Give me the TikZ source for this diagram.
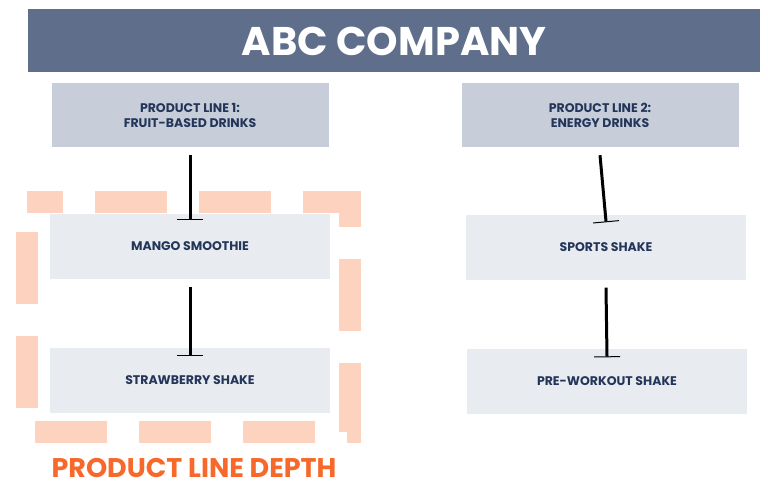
\documentclass[tikz,border=0pt]{standalone}
\usepackage{fontspec}
\setmainfont{Poppins}
\usetikzlibrary{positioning,arrows.meta}
\definecolor{titlebg}{HTML}{5E6E8B}
\definecolor{linebg}{HTML}{C8CED9}
\definecolor{itembg}{HTML}{E8EBF0}
\definecolor{navy}{HTML}{233659}
\definecolor{peach}{HTML}{FDD3C0}
\definecolor{flame}{HTML}{F7692A}
\begin{document}
\begin{tikzpicture}[x=1pt,y=-1pt,
        titlebox/.style={fill=titlebg, text=white, minimum width=732pt, minimum height=63pt, font=\fontsize{40}{40}\selectfont\bfseries},
        linebox/.style={fill=linebg, text=navy, minimum width=277pt, minimum height=64pt, align=center, font=\fontsize{12.5}{15}\selectfont\bfseries},
        itembox/.style={fill=itembg, text=navy, minimum width=280pt, minimum height=65pt, font=\fontsize{12.5}{15}\selectfont\bfseries},
        link/.style={line width=3pt, -{Bar[width=26pt,line width=1pt]}, shorten >=-1pt},
]
        \useasboundingbox (0,0) rectangle (768,492);
        \node[titlebox] (company) at (394,41) {ABC COMPANY};
        \node[linebox] (lineone) at (190,115) {PRODUCT LINE 1:\\FRUIT-BASED DRINKS};
        \node[linebox] (linetwo) at (600,115) {PRODUCT LINE 2:\\ENERGY DRINKS};
        \node[itembox] (mango) at (190,246) {MANGO SMOOTHIE};
        \node[itembox] (berry) at (190,380) {STRAWBERRY SHAKE};
        \node[itembox] (sports) at (606,247) {SPORTS SHAKE};
        \node[itembox] (preworkout) at (607,381) {PRE-WORKOUT SHAKE};

        \draw[link] ([yshift=-8pt]lineone.south) -- ([yshift=-6pt]mango.north);
        \draw[link] ([yshift=-8pt]mango.south) -- ([yshift=-8pt]berry.north);
        \draw[link] ([yshift=-8pt]linetwo.south) -- ([yshift=-7pt]sports.north);
        \draw[link] ([yshift=-8pt]sports.south) -- ([yshift=-8pt]preworkout.north);

        % depth frame
        \draw[peach, line width=22pt, dash pattern=on 72pt off 32pt, dash phase=36pt]
                (27,202) -- (350,202) -- (350,432) -- (27,432) -- cycle;
        \node[text=flame, font=\fontsize{27}{27}\selectfont\bfseries] (depth) at (194,468) {PRODUCT LINE DEPTH};
\end{tikzpicture}
\end{document}
